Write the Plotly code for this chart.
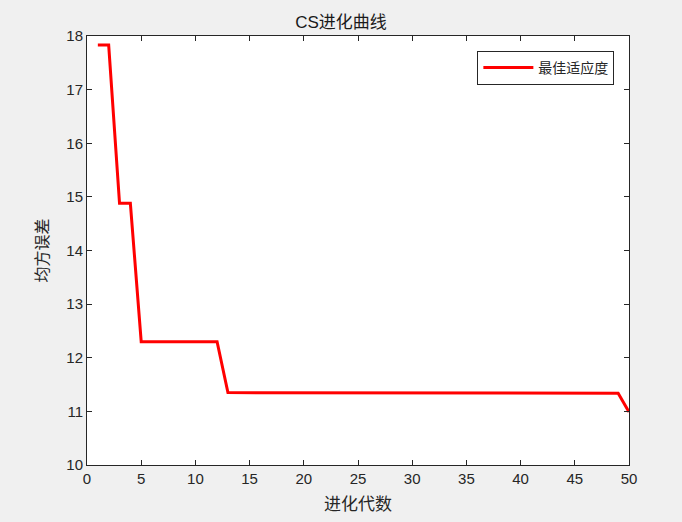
import plotly.graph_objects as go

generations = list(range(1, 51))
best_fitness = ([17.83, 17.83, 14.88, 14.88] + [12.30] * 8 + [11.35] * 33 +
                [11.34] * 4 + [10.99])

fig = go.Figure()
fig.add_trace(go.Scatter(x=generations, y=best_fitness, mode="lines",
                         line=dict(color="#ff0000", width=3), name="最佳适应度"))

axis_common = dict(showgrid=False, zeroline=False, showline=True, linecolor="#262626",
                   linewidth=1, mirror="ticks", ticks="inside", ticklen=5,
                   tickcolor="#262626",
                   tickfont=dict(family="Liberation Sans, Arial", size=15, color="#262626"))

fig.update_layout(
    width=682, height=522,
    paper_bgcolor="#f0f0f0", plot_bgcolor="#ffffff",
    margin=dict(l=87, r=53, t=36, b=57),
    title=dict(text="CS进化曲线", x=0.5, xanchor="center", y=0.957, yanchor="middle",
               font=dict(family="Liberation Sans, Noto Sans CJK SC", size=17, color="#1a1a1a")),
    xaxis=dict(range=[0, 50], tickvals=list(range(0, 51, 5)),
               title=dict(text="进化代数", standoff=12,
                          font=dict(family="Noto Sans CJK SC", size=17, color="#262626")),
               **axis_common),
    yaxis=dict(range=[10, 18], tickvals=list(range(10, 19)),
               title=dict(text="均方误差", standoff=13,
                          font=dict(family="Noto Sans CJK SC", size=16, color="#262626")),
               **axis_common),
    showlegend=True,
    legend=dict(x=0.973, y=0.965, xanchor="right", yanchor="top",
                bgcolor="#ffffff", bordercolor="#262626", borderwidth=1,
                font=dict(family="Noto Sans CJK SC", size=14, color="#262626"),
                itemwidth=50),
)

fig.write_html("out.html", config={"displayModeBar": False},
               post_script="document.body.style.margin='0';"
                           "document.body.style.background='#f0f0f0';")
